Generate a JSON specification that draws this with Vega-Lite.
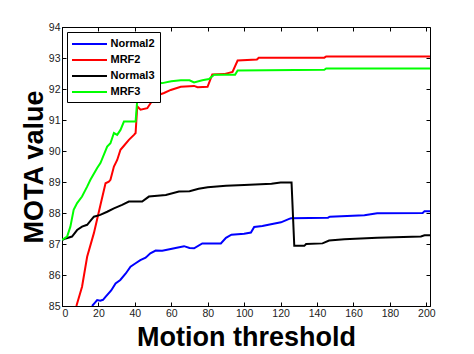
{
  "$schema": "https://vega.github.io/schema/vega-lite/v6.json",
  "width": 368,
  "height": 279,
  "autosize": "none",
  "padding": {"left": 62, "top": 27, "right": 44, "bottom": 48},
  "background": "#ffffff",
  "datasets": {
    "curves": [
      {"series":"Normal2","x":16.5,"y":85.0},{"series":"Normal2","x":18,"y":85.1},{"series":"Normal2","x":19.3,"y":85.19},{"series":"Normal2","x":21,"y":85.17},{"series":"Normal2","x":22.5,"y":85.2},{"series":"Normal2","x":24,"y":85.3},{"series":"Normal2","x":27,"y":85.5},{"series":"Normal2","x":29.4,"y":85.73},{"series":"Normal2","x":32,"y":85.84},{"series":"Normal2","x":35,"y":86.05},{"series":"Normal2","x":37.6,"y":86.27},{"series":"Normal2","x":40.4,"y":86.38},{"series":"Normal2","x":43,"y":86.48},{"series":"Normal2","x":45.9,"y":86.56},{"series":"Normal2","x":48.5,"y":86.7},{"series":"Normal2","x":51.4,"y":86.79},{"series":"Normal2","x":55,"y":86.78},{"series":"Normal2","x":59.7,"y":86.84},{"series":"Normal2","x":63,"y":86.88},{"series":"Normal2","x":67,"y":86.93},{"series":"Normal2","x":70,"y":86.87},{"series":"Normal2","x":72.5,"y":86.86},{"series":"Normal2","x":77,"y":87.02},{"series":"Normal2","x":87.2,"y":87.02},{"series":"Normal2","x":90,"y":87.2},{"series":"Normal2","x":93,"y":87.3},{"series":"Normal2","x":100,"y":87.33},{"series":"Normal2","x":103.7,"y":87.37},{"series":"Normal2","x":105.5,"y":87.55},{"series":"Normal2","x":110,"y":87.58},{"series":"Normal2","x":114.7,"y":87.64},{"series":"Normal2","x":120.2,"y":87.7},{"series":"Normal2","x":124.7,"y":87.81},{"series":"Normal2","x":125.7,"y":87.83},{"series":"Normal2","x":146,"y":87.85},{"series":"Normal2","x":147,"y":87.88},{"series":"Normal2","x":166,"y":87.93},{"series":"Normal2","x":173,"y":87.99},{"series":"Normal2","x":198,"y":88.0},{"series":"Normal2","x":199,"y":88.06},{"series":"Normal2","x":202,"y":88.06},
      {"series":"MRF2","x":7.9,"y":85.0},{"series":"MRF2","x":11,"y":85.62},{"series":"MRF2","x":13.8,"y":86.59},{"series":"MRF2","x":17.5,"y":87.35},{"series":"MRF2","x":21.1,"y":88.26},{"series":"MRF2","x":23.9,"y":88.96},{"series":"MRF2","x":25.7,"y":89.01},{"series":"MRF2","x":26.6,"y":89.07},{"series":"MRF2","x":28.5,"y":89.5},{"series":"MRF2","x":30.3,"y":89.71},{"series":"MRF2","x":32.1,"y":90.04},{"series":"MRF2","x":34,"y":90.17},{"series":"MRF2","x":36.7,"y":90.36},{"series":"MRF2","x":39.5,"y":90.52},{"series":"MRF2","x":40.4,"y":90.58},{"series":"MRF2","x":41.3,"y":91.44},{"series":"MRF2","x":43.1,"y":91.33},{"series":"MRF2","x":46.8,"y":91.38},{"series":"MRF2","x":48.7,"y":91.55},{"series":"MRF2","x":50.5,"y":91.76},{"series":"MRF2","x":56,"y":91.87},{"series":"MRF2","x":59.7,"y":91.97},{"series":"MRF2","x":65.2,"y":92.07},{"series":"MRF2","x":72.5,"y":92.1},{"series":"MRF2","x":74.4,"y":92.06},{"series":"MRF2","x":79.9,"y":92.07},{"series":"MRF2","x":82.5,"y":92.47},{"series":"MRF2","x":89,"y":92.48},{"series":"MRF2","x":93.6,"y":92.55},{"series":"MRF2","x":96.4,"y":92.92},{"series":"MRF2","x":107,"y":92.95},{"series":"MRF2","x":108,"y":93.01},{"series":"MRF2","x":144,"y":93.01},{"series":"MRF2","x":145,"y":93.05},{"series":"MRF2","x":202,"y":93.05},
      {"series":"Normal3","x":0,"y":87.13},{"series":"Normal3","x":2,"y":87.18},{"series":"Normal3","x":5.5,"y":87.24},{"series":"Normal3","x":8.3,"y":87.45},{"series":"Normal3","x":11,"y":87.56},{"series":"Normal3","x":13.8,"y":87.62},{"series":"Normal3","x":17.5,"y":87.88},{"series":"Normal3","x":21,"y":87.94},{"series":"Normal3","x":24.8,"y":88.04},{"series":"Normal3","x":28.5,"y":88.15},{"series":"Normal3","x":33,"y":88.26},{"series":"Normal3","x":36.7,"y":88.37},{"series":"Normal3","x":44,"y":88.37},{"series":"Normal3","x":47.7,"y":88.53},{"series":"Normal3","x":57,"y":88.58},{"series":"Normal3","x":64.2,"y":88.69},{"series":"Normal3","x":70,"y":88.7},{"series":"Normal3","x":75,"y":88.78},{"series":"Normal3","x":80,"y":88.83},{"series":"Normal3","x":90,"y":88.88},{"series":"Normal3","x":100,"y":88.9},{"series":"Normal3","x":115,"y":88.94},{"series":"Normal3","x":120,"y":88.98},{"series":"Normal3","x":126,"y":88.98},{"series":"Normal3","x":127.5,"y":86.94},{"series":"Normal3","x":133,"y":86.94},{"series":"Normal3","x":134,"y":87.0},{"series":"Normal3","x":143,"y":87.02},{"series":"Normal3","x":146.6,"y":87.11},{"series":"Normal3","x":155,"y":87.15},{"series":"Normal3","x":173,"y":87.2},{"series":"Normal3","x":197,"y":87.24},{"series":"Normal3","x":199,"y":87.28},{"series":"Normal3","x":202,"y":87.28},
      {"series":"MRF3","x":0,"y":87.13},{"series":"MRF3","x":2.8,"y":87.24},{"series":"MRF3","x":4.6,"y":87.56},{"series":"MRF3","x":6.4,"y":88.1},{"series":"MRF3","x":8.3,"y":88.32},{"series":"MRF3","x":11,"y":88.53},{"series":"MRF3","x":13.8,"y":88.85},{"series":"MRF3","x":15.6,"y":89.07},{"series":"MRF3","x":19.3,"y":89.45},{"series":"MRF3","x":21.1,"y":89.61},{"series":"MRF3","x":24.8,"y":90.14},{"series":"MRF3","x":26.6,"y":90.25},{"series":"MRF3","x":28.5,"y":90.58},{"series":"MRF3","x":30.3,"y":90.52},{"series":"MRF3","x":32.1,"y":90.68},{"series":"MRF3","x":34,"y":90.95},{"series":"MRF3","x":40.4,"y":90.95},{"series":"MRF3","x":41.3,"y":91.65},{"series":"MRF3","x":42.2,"y":92.08},{"series":"MRF3","x":46,"y":92.15},{"series":"MRF3","x":55,"y":92.19},{"series":"MRF3","x":60,"y":92.25},{"series":"MRF3","x":65.2,"y":92.28},{"series":"MRF3","x":70,"y":92.28},{"series":"MRF3","x":72.5,"y":92.21},{"series":"MRF3","x":77,"y":92.28},{"series":"MRF3","x":80.7,"y":92.32},{"series":"MRF3","x":83.5,"y":92.46},{"series":"MRF3","x":95,"y":92.46},{"series":"MRF3","x":96.4,"y":92.6},{"series":"MRF3","x":144,"y":92.62},{"series":"MRF3","x":145,"y":92.66},{"series":"MRF3","x":202,"y":92.66}
    ]
  },
  "data": {"name": "curves"},
  "layer": [
    {
      "mark": {"type": "line", "strokeWidth": 2, "clip": true},
      "encoding": {
        "x": {"field": "x", "type": "quantitative",
              "scale": {"domain": [0, 202], "nice": false, "zero": false},
              "axis": {"title": "Motion threshold", "values": [0,20,40,60,80,100,120,140,160,180,200], "titleY": 39.5, "titleBaseline": "alphabetic"}},
        "y": {"field": "y", "type": "quantitative",
              "scale": {"domain": [85, 94], "nice": false, "zero": false},
              "axis": {"title": "MOTA value", "values": [85,86,87,88,89,90,91,92,93,94], "titleX": -20, "titleY": 139.5, "titleBaseline": "alphabetic", "titleAngle": -90}},
        "color": {"field": "series", "type": "nominal",
                  "scale": {"domain": ["Normal2", "MRF2", "Normal3", "MRF3"], "range": ["#0000ff", "#ff0000", "#000000", "#00ff00"]},
                  "legend": {"title": null, "orient": "none", "legendX": 5, "legendY": 5,
                             "symbolType": "M-3,0H3", "symbolSize": 136, "symbolStrokeWidth": 2, "symbolOffset": 10.5,
                             "labelFont": "Liberation Sans", "labelFontWeight": "bold", "labelFontSize": 11, "labelColor": "#000", "labelOffset": 14,
                             "strokeColor": "#000", "fillColor": "#fff", "padding": 5, "rowPadding": 4, "cornerRadius": 0}},
        "order": {"field": "x", "type": "quantitative"}
      }
    },
    {
      "mark": {"type": "line", "opacity": 0},
      "encoding": {
        "x": {"field": "x", "type": "quantitative",
              "axis": {"orient": "top", "labels": false, "title": null, "domain": false, "values": [0,20,40,60,80,100,120,140,160,180,200]}},
        "y": {"field": "y", "type": "quantitative",
              "axis": {"orient": "right", "labels": false, "title": null, "domain": false, "values": [85,86,87,88,89,90,91,92,93,94]}},
        "detail": {"field": "series"}
      }
    }
  ],
  "resolve": {"axis": {"x": "independent", "y": "independent"}},
  "config": {
    "view": {"stroke": "#000", "strokeWidth": 1},
    "axis": {
      "grid": false,
      "domainColor": "#000",
      "tickColor": "#000",
      "tickSize": -4,
      "labelFont": "Liberation Sans",
      "labelFontSize": 10.5,
      "labelColor": "#222",
      "labelPadding": 6,
      "titleFont": "Liberation Sans",
      "titleFontSize": 27,
      "titleFontWeight": "bold",
      "titleColor": "#000"
    }
  }
}
